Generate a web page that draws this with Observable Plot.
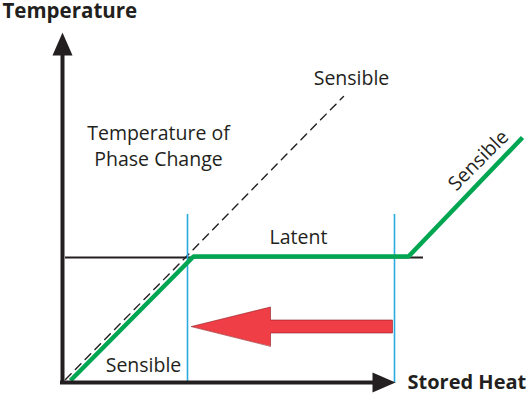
<!DOCTYPE html>
<html>
<head>
<meta charset="utf-8">
<script src="https://cdn.jsdelivr.net/npm/d3@7"></script>
<script src="https://cdn.jsdelivr.net/npm/@observablehq/plot@0.6"></script>
<style>
  html, body { margin: 0; padding: 0; background: #fff; }
  #chart svg { display: block; }
</style>
</head>
<body>
<div id="chart"></div>
<script>
// ---- Data (Stored Heat, Temperature in arbitrary units) ----
const materialHeat = [8, 131, 346, 460];      // actual material path (green)
const materialTemp = [2, 126, 126, 245];
const phaseTemp = 125;                          // temperature of phase change
const phaseLineHeat = [3, 361];
const sensibleOnlyHeat = [3, 281];             // sensible-only storage (dashed)
const sensibleOnlyTemp = [3, 286];
const transitionHeat = [125, 332];             // start / end of phase change (blue)
const transitionTop = 168;
const axisHeatMax = 333;
const axisTempMax = 350;
const releaseFrom = 330, releaseTo = 129, releaseTemp = 56;   // red arrow

const labelText = ["Temperature of\nPhase Change", "Sensible", "Latent", "Sensible"];
const labelHeat = [96, 289, 236, 81];
const labelTemp = [238, 306, 147, 19];
const slopeLabel = {text: "Sensible", heat: 416, temp: 222};
const axisTitles = [
  {text: "Temperature", heat: -60, temp: 371, size: 20.5},
  {text: "Stored Heat", heat: 345, temp: 0, size: 20}
];

// ---- Derived tables ----
const green = materialHeat.map((h, i) => ({h, t: materialTemp[i]}));
const dashed = sensibleOnlyHeat.map((h, i) => ({h, t: sensibleOnlyTemp[i]}));
const labels = labelText.map((text, i) => ({text, h: labelHeat[i], t: labelTemp[i]}));

const headLen = 23, headHalf = 10;
const yHead = [
  {h: -headHalf, t: axisTempMax - headLen},
  {h: 0, t: axisTempMax},
  {h: headHalf, t: axisTempMax - headLen}
];
const xHead = [
  {h: axisHeatMax - headLen, t: headHalf},
  {h: axisHeatMax, t: 0},
  {h: axisHeatMax - headLen, t: -headHalf}
];
const rHeadLen = 79, rHeadHalf = 19.5, rShaftHalf = 6.5;
const redArrow = [
  {h: releaseTo, t: releaseTemp},
  {h: releaseTo + rHeadLen, t: releaseTemp + rHeadHalf},
  {h: releaseTo + rHeadLen, t: releaseTemp + rShaftHalf},
  {h: releaseFrom, t: releaseTemp + rShaftHalf},
  {h: releaseFrom, t: releaseTemp - rShaftHalf},
  {h: releaseTo + rHeadLen, t: releaseTemp - rShaftHalf},
  {h: releaseTo + rHeadLen, t: releaseTemp - rHeadHalf}
];

const ink = "#231f20";
const font = "'Open Sans', 'DejaVu Sans', sans-serif";

const chart = Plot.plot({
  width: 529,
  height: 410,
  margin: 0,
  style: {background: "#fff", fontFamily: font},
  x: {domain: [-62, 467], axis: null},
  y: {domain: [-28, 382], axis: null},
  marks: [
    // phase change temperature line
    Plot.ruleY([phaseTemp], {x1: phaseLineHeat[0], x2: phaseLineHeat[1], stroke: ink, strokeWidth: 2}),
    // sensible-only dashed
    Plot.line(dashed, {x: "h", y: "t", stroke: ink, strokeWidth: 1.4, strokeDasharray: "8,6"}),
    // transition markers
    Plot.ruleX(transitionHeat, {y1: -1, y2: transitionTop, stroke: "#29abe2", strokeWidth: 1.6}),
    // red arrow
    Plot.line(redArrow, {x: "h", y: "t", curve: "linear-closed", fill: "#ef3e45", stroke: "#8e1c22", strokeWidth: 0.6}),
    // material path
    Plot.line(green, {x: "h", y: "t", stroke: "#00a651", strokeWidth: 4.5, strokeLinejoin: "miter", strokeLinecap: "butt"}),
    // axes
    Plot.ruleX([0], {y1: -2, y2: axisTempMax - headLen + 1, stroke: ink, strokeWidth: 4}),
    Plot.ruleY([0], {x1: -2, x2: axisHeatMax - headLen + 1, stroke: ink, strokeWidth: 4}),
    Plot.line(yHead, {x: "h", y: "t", curve: "linear-closed", fill: ink, stroke: "none"}),
    Plot.line(xHead, {x: "h", y: "t", curve: "linear-closed", fill: ink, stroke: "none"}),
    // labels
    Plot.text(labels, {x: "h", y: "t", text: "text", fill: ink, fontSize: 19.5, lineHeight: 1.35, textAnchor: "middle", lineAnchor: "middle"}),
    Plot.text([slopeLabel], {x: "heat", y: "temp", text: "text", fill: ink, fontSize: 19.5, rotate: -45, textAnchor: "middle", lineAnchor: "middle"}),
    Plot.text(axisTitles, {x: "heat", y: "temp", text: "text", fill: ink, fontSize: d => d.size, fontWeight: "bold", textAnchor: "start", lineAnchor: "middle"})
  ]
});
document.getElementById("chart").appendChild(chart);
</script>
</body>
</html>
